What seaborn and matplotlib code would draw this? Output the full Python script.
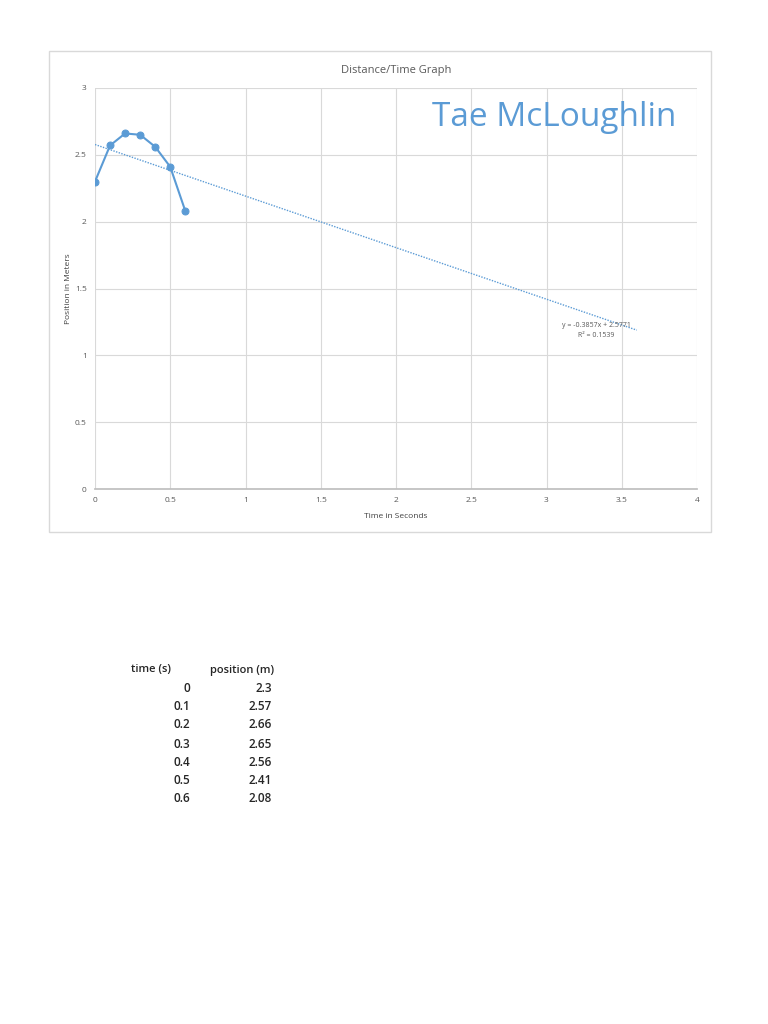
import numpy as np
import pandas as pd
import matplotlib
matplotlib.use("Agg")
import matplotlib.pyplot as plt
import seaborn as sns

# data from the spreadsheet
time_s = [0, 0.1, 0.2, 0.3, 0.4, 0.5, 0.6]
position_m = [2.3, 2.57, 2.66, 2.65, 2.56, 2.41, 2.08]
x_ticks = [0, 0.5, 1, 1.5, 2, 2.5, 3, 3.5, 4]
y_ticks = [0, 0.5, 1, 1.5, 2, 2.5, 3]

df = pd.DataFrame({"time": time_s, "position": position_m})

sns.set_theme(style="white")
plt.rcParams["font.family"] = ["Open Sans", "DejaVu Sans"]

blue = "#5B9BD5"
grey_txt = "#595959"

fig = plt.figure(figsize=(7.68, 10.24), dpi=100)

# chart frame
frame = plt.Rectangle((49 / 768, 1 - 532 / 1024), 662 / 768, 481 / 1024,
                      transform=fig.transFigure, fill=False,
                      edgecolor="#D9D9D9", linewidth=1.0)
fig.add_artist(frame)

ax = fig.add_axes([95 / 768, 1 - 489 / 1024, 602 / 768, 401 / 1024])

# linear trendline, forecast forward to 3.6
slope, intercept = np.polyfit(time_s, position_m, 1)
pred = np.polyval([slope, intercept], time_s)
r2 = 1 - np.sum((np.array(position_m) - pred) ** 2) / np.sum((np.array(position_m) - np.mean(position_m)) ** 2)
trend_x = np.array([0, 3.6])
trend = pd.DataFrame({"time": trend_x, "position": slope * trend_x + intercept})
sns.lineplot(data=trend, x="time", y="position", ax=ax, color=blue,
             linestyle=(0, (1, 1)), linewidth=1.0)

sns.lineplot(data=df, x="time", y="position", ax=ax, color=blue,
             marker="o", markersize=5, markeredgecolor=blue, linewidth=1.5)

ax.set_xlim(0, 4)
ax.set_ylim(0, 3)
ax.set_xticks(x_ticks)
ax.set_yticks(y_ticks)
ax.set_xticklabels([f"{v:g}" for v in x_ticks])
ax.set_yticklabels([f"{v:g}" for v in y_ticks])
ax.grid(True, color="#D9D9D9", linewidth=0.8)
for side in ["top", "right", "left"]:
    ax.spines[side].set_visible(False)
ax.spines["bottom"].set_color("#BFBFBF")
ax.tick_params(axis="both", length=0, labelsize=6, labelcolor=grey_txt, pad=6)

ax.set_xlabel("Time in Seconds", fontsize=6, color="#404040", labelpad=6)
ax.set_ylabel("Position in Meters", fontsize=6, color="#404040", labelpad=2)
ax.set_title("Distance/Time Graph", fontsize=8, color=grey_txt, pad=11)

ax.text(3.33, 1.225, f"y = {slope:.4f}x + {intercept:.4f}", fontsize=5,
        color=grey_txt, ha="center", va="center")
ax.text(3.33, 1.145, f"R² = {r2:.4f}", fontsize=5,
        color=grey_txt, ha="center", va="center")

fig.text(432 / 768, 1 - 117 / 1024, "Tae McLoughlin", fontsize=24,
         color=blue, ha="left", va="center")

# table below the chart
row_y = [689, 707, 725, 744, 762, 780, 799]
fig.text(131 / 768, 1 - 670 / 1024, "time (s)", fontsize=8, color="#262626",
         ha="left", va="center", fontweight="semibold")
fig.text(210 / 768, 1 - 670 / 1024, "position (m)", fontsize=8, color="#262626",
         ha="left", va="center", fontweight="semibold")
for t, p, yy in zip(time_s, position_m, row_y):
    fig.text(190 / 768, 1 - yy / 1024, f"{t:g}", fontsize=8.5, color="#262626",
             ha="right", va="center", fontweight="semibold")
    fig.text(272 / 768, 1 - yy / 1024, f"{p:g}", fontsize=8.5, color="#262626",
             ha="right", va="center", fontweight="semibold")

fig.savefig("out.png", dpi=100, facecolor="white")
